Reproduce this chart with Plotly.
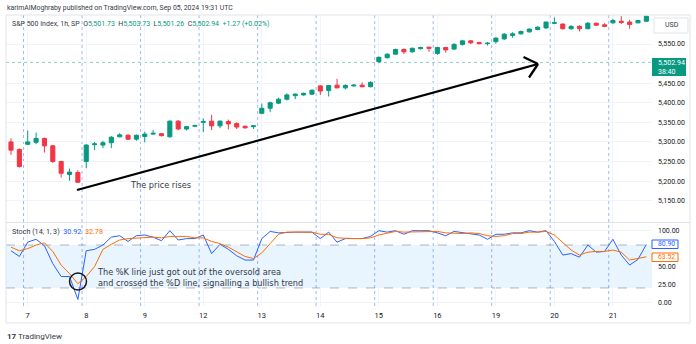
import plotly.graph_objects as go

# ---------------- data ----------------
opens = [5300, 5281, 5294, 5299, 5309, 5290, 5250, 5217, 5222, 5250,
         5293, 5292, 5298, 5313, 5317, 5307, 5314, 5320, 5321, 5313,
         5353, 5333, 5340, 5350, 5353, 5341, 5352, 5347, 5340, 5339,
         5373, 5386, 5399, 5409, 5418, 5420, 5422, 5443, 5431, 5445,
         5438, 5443, 5445, 5441, 5505, 5515, 5524, 5536, 5530, 5538,
         5542, 5526, 5541, 5537, 5549, 5558, 5554, 5551, 5556, 5563,
         5572, 5576, 5581, 5587, 5591, 5603, 5601, 5589, 5595, 5589,
         5603, 5599, 5604, 5608, 5606, 5604, 5608]
highs = [5309, 5283, 5329, 5324, 5311, 5292, 5252, 5232, 5228, 5294,
         5300, 5303, 5315, 5322, 5320, 5319, 5326, 5330, 5323, 5355,
         5356, 5341, 5344, 5360, 5369, 5355, 5357, 5350, 5342, 5343,
         5398, 5403, 5413, 5424, 5424, 5426, 5434, 5445, 5445, 5461,
         5447, 5447, 5452, 5455, 5518, 5526, 5538, 5539, 5541, 5543,
         5543, 5543, 5543, 5552, 5559, 5560, 5555, 5555, 5567, 5578,
         5580, 5584, 5590, 5595, 5607, 5618, 5602, 5598, 5598, 5606,
         5605, 5603, 5614, 5621, 5612, 5611, 5621]
lows = [5267, 5235, 5292, 5294, 5273, 5246, 5209, 5201, 5195, 5233,
        5279, 5284, 5284, 5312, 5305, 5303, 5299, 5318, 5314, 5311,
        5330, 5329, 5338, 5325, 5330, 5335, 5332, 5333, 5334, 5333,
        5371, 5376, 5397, 5406, 5409, 5418, 5420, 5420, 5416, 5437,
        5434, 5441, 5439, 5439, 5501, 5513, 5523, 5524, 5528, 5536,
        5530, 5522, 5528, 5535, 5546, 5550, 5549, 5546, 5551, 5561,
        5566, 5574, 5579, 5585, 5589, 5601, 5587, 5586, 5582, 5588,
        5596, 5593, 5602, 5601, 5589, 5603, 5608]
closes = [5279, 5237, 5300, 5309, 5290, 5250, 5220, 5223, 5197, 5292,
          5295, 5298, 5312, 5318, 5307, 5317, 5320, 5322, 5316, 5353,
          5333, 5339, 5342, 5352, 5341, 5353, 5346, 5338, 5336, 5341,
          5386, 5400, 5409, 5420, 5422, 5424, 5432, 5430, 5444, 5438,
          5444, 5445, 5441, 5452, 5516, 5524, 5536, 5530, 5539, 5541,
          5539, 5541, 5535, 5549, 5558, 5553, 5551, 5552, 5565, 5575,
          5576, 5582, 5588, 5593, 5606, 5604, 5589, 5595, 5589, 5603,
          5598, 5595, 5610, 5605, 5600, 5610, 5621]
stoch_k = [72, 64, 84, 88, 79, 54, 36, 36, 4, 72,
           74, 80, 91, 93, 85, 93, 94, 91, 86, 100,
           87, 89, 89, 94, 68, 81, 74, 65, 59, 59,
           89, 99, 97, 98, 98, 98, 98, 89, 98, 84,
           89, 89, 89, 92, 100, 98, 100, 95, 100, 100,
           100, 97, 93, 99, 97, 96, 94, 88, 95, 95,
           97, 97, 100, 98, 100, 85, 66, 68, 63, 80,
           70, 71, 88, 66, 52, 60, 80.90]
stoch_d = [77, 72, 75, 80, 83, 71, 52, 40, 26, 36,
           50, 74, 81, 87, 89, 90, 91, 91, 90, 92,
           92, 92, 90, 90, 85, 82, 77, 70, 64, 61,
           69, 82, 95, 98, 98, 98, 98, 95, 95, 90,
           89, 89, 89, 90, 94, 97, 99, 98, 98, 98,
           99, 99, 97, 96, 96, 97, 96, 93, 92, 93,
           96, 96, 98, 98, 99, 94, 84, 73, 66, 70,
           71, 71, 73, 70, 59, 61, 63.52]
day_labels = ["7", "8", "9", "12", "13", "14", "15", "16", "19", "20", "21"]
day_first_bar = [2, 9, 16, 23, 30, 37, 44, 51, 58, 65, 72]
price_ticks = [5150, 5200, 5250, 5300, 5350, 5400, 5450, 5550]
stoch_ticks = [0, 25, 50, 100]
last_price = 5502.94

bars = list(range(len(opens)))

GREEN = "#089981"
RED = "#f23645"
BLUE = "#2962ff"
ORANGE = "#ff6d00"
TXT = "#131722"
GRID = "#f0f3fa"
FONT = "Roboto"
DFONT = "DejaVu Sans"

# pixel helpers (plot area: x 6..652, y 15..306)
L, R, T, B = 6, 652, 15, 306
def pxx(px):
    return (px - L) / (R - L)
def pxy(py):
    return (B - py) / (B - T)

fig = go.Figure()
fig.add_trace(go.Candlestick(
    x=bars, open=opens, high=highs, low=lows, close=closes,
    increasing=dict(line=dict(color=GREEN, width=1), fillcolor=GREEN),
    decreasing=dict(line=dict(color=RED, width=1), fillcolor=RED),
    whiskerwidth=0, xaxis="x", yaxis="y", showlegend=False, hoverinfo="skip"))
fig.add_trace(go.Scatter(x=bars, y=stoch_k, mode="lines",
                         line=dict(color=BLUE, width=1), xaxis="x", yaxis="y2",
                         showlegend=False, hoverinfo="skip"))
fig.add_trace(go.Scatter(x=bars, y=stoch_d, mode="lines",
                         line=dict(color=ORANGE, width=1), xaxis="x", yaxis="y2",
                         showlegend=False, hoverinfo="skip"))

shapes = []
# stoch band + levels
shapes.append(dict(type="rect", xref="x", yref="y2", x0=-1, x1=80, y0=20, y1=80,
                   fillcolor="rgba(33,150,243,0.10)", line_width=0, layer="below"))
for lv in (20, 50, 80):
    shapes.append(dict(type="line", xref="paper", yref="y2", x0=0, x1=1, y0=lv, y1=lv,
                       line=dict(color="rgba(120,123,134,0.55)", width=1, dash="dash"),
                       layer="below"))
# session breaks
for b in day_first_bar:
    shapes.append(dict(type="line", xref="x", yref="paper", x0=b - 0.5, x1=b - 0.5,
                       y0=0, y1=1, line=dict(color="rgba(41,98,255,0.45)", width=1, dash="dot"),
                       layer="below"))
# current price line
shapes.append(dict(type="line", xref="paper", yref="y", x0=0, x1=1, y0=last_price, y1=last_price,
                   line=dict(color="rgba(8,153,129,0.45)", width=1, dash="dot"), layer="below"))
# pane separator
shapes.append(dict(type="line", xref="paper", yref="paper", x0=0, x1=pxx(690),
                   y0=pxy(222.5), y1=pxy(222.5), line=dict(color="#e0e3eb", width=1)))
# outer border
shapes.append(dict(type="rect", xref="paper", yref="paper", x0=0, x1=pxx(690),
                   y0=pxy(323), y1=1, line=dict(color="#e0e3eb", width=1)))
# arrow drawing (pixel -> data)
def bx(px):
    return (px - 11) / 8.36
def py_price(py):
    return 5550 - (py - 44) / 0.3917
tip = (538, 64)
for (sx, sy) in [(77, 190), (523.5, 57), (529, 77.5)]:
    shapes.append(dict(type="line", xref="x", yref="y",
                       x0=bx(sx), y0=py_price(sy), x1=bx(tip[0]), y1=py_price(tip[1]),
                       line=dict(color="#000000", width=2.3)))
# circle in stoch pane
def py_st(py):
    return (302.3 - py) / 0.716
shapes.append(dict(type="circle", xref="x", yref="y2",
                   x0=bx(69.5), x1=bx(86.5), y0=py_st(290), y1=py_st(273),
                   line=dict(color="#131722", width=1.5)))
# price label box
shapes.append(dict(type="rect", xref="paper", yref="paper", x0=pxx(652), x1=pxx(686),
                   y0=pxy(76), y1=pxy(58), fillcolor=GREEN, line_width=0))
# USD box
shapes.append(dict(type="rect", xref="paper", yref="paper", x0=pxx(654), x1=pxx(688),
                   y0=pxy(33), y1=pxy(18), fillcolor="white",
                   line=dict(color="#e0e3eb", width=1)))
# stoch value boxes
shapes.append(dict(type="rect", xref="paper", yref="paper", x0=pxx(652), x1=pxx(678),
                   y0=pxy(248.5), y1=pxy(240), fillcolor="white",
                   line=dict(color=BLUE, width=1)))
shapes.append(dict(type="rect", xref="paper", yref="paper", x0=pxx(652), x1=pxx(678),
                   y0=pxy(261.5), y1=pxy(253), fillcolor="white",
                   line=dict(color=ORANGE, width=1)))

ann = []
def A(text, x, y, size=7, color=TXT, xanchor="left", family=FONT, **kw):
    ann.append(dict(text=text, x=x, y=y, xref="paper", yref="paper", showarrow=False,
                    xanchor=xanchor, yanchor="middle",
                    font=dict(size=size, color=color, family=family), **kw))

A("karimAlMoghraby published on TradingView.com, Sep 05, 2024 19:31 UTC",
  pxx(5), pxy(8), size=6.9, color="#363a45")
hdr = ("S&amp;P 500 Index, 1h, SP  O<span style='color:%s'>5,501.73</span>  "
       "H<span style='color:%s'>5,503.73</span>  L<span style='color:%s'>5,501.26</span>  "
       "C<span style='color:%s'>5,502.94</span>  <span style='color:%s'>+1.27 (+0.02%%)</span>"
       % (GREEN, GREEN, GREEN, GREEN, GREEN))
A(hdr, pxx(10), pxy(24), size=7.0, color="#363a45")
A("Stoch (14, 1, 3)  <span style='color:%s'>30.92</span>  <span style='color:%s'>32.78</span>"
  % (BLUE, ORANGE), pxx(10), pxy(231.5), size=7.2, color="#363a45")
A("5,502.94", pxx(656), pxy(63), size=7, color="white")
A("38:40", pxx(656), pxy(71.5), size=7, color="white")
A("USD", pxx(663), pxy(25.5), size=7, color="#363a45")
A("80.90", pxx(656), pxy(244.3), size=6.8, color=BLUE)
A("63.52", pxx(656), pxy(257.3), size=6.8, color=ORANGE)
A("<b>17</b> TradingView", pxx(5), pxy(336), size=8, color="#363a45")
# text drawings
ann.append(dict(text="The price rises", x=bx(160), y=py_price(185), xref="x", yref="y",
                showarrow=False, xanchor="center", yanchor="middle",
                font=dict(size=8.2, color="#363a45", family=DFONT)))
ann.append(dict(text="The %K line just got out of the oversold area<br>"
                     "and crossed the %D line, signalling a bullish trend",
                x=bx(95), y=py_st(277.5), xref="x", yref="y2", showarrow=False,
                xanchor="left", yanchor="middle", align="left",
                font=dict(size=8.2, color="#363a45", family=DFONT)))

fig.update_layout(
    width=696, height=344,
    margin=dict(l=L, r=696 - R, t=T, b=344 - B, pad=0),
    paper_bgcolor="white", plot_bgcolor="white",
    font=dict(family=FONT, size=7, color=TXT),
    showlegend=False,
    xaxis=dict(range=[bx(6), bx(652)], anchor="y2", tickmode="array",
               tickvals=day_first_bar, ticktext=day_labels, showgrid=True,
               gridcolor=GRID, gridwidth=1, zeroline=False, showline=False,
               ticks="", ticklabelstandoff=3, tickfont=dict(size=7.5, color=TXT),
               rangeslider=dict(visible=False), fixedrange=True),
    yaxis=dict(domain=[pxy(222), 1], range=[py_price(222), py_price(15)], side="right",
               anchor="x", tickmode="array", tickvals=price_ticks, tickformat=",.2f",
               showgrid=True, gridcolor=GRID, zeroline=False, showline=False, ticks="",
               ticklabelstandoff=5, tickfont=dict(size=7, color=TXT)),
    yaxis2=dict(domain=[0, pxy(223)], range=[py_st(306), py_st(223)], side="right",
                anchor="x", tickmode="array", tickvals=stoch_ticks, tickformat=".2f",
                showgrid=True, gridcolor=GRID, zeroline=False, showline=False, ticks="",
                ticklabelstandoff=5, tickfont=dict(size=7, color=TXT)),
    shapes=shapes, annotations=ann,
)
fig.write_html("out.html")
